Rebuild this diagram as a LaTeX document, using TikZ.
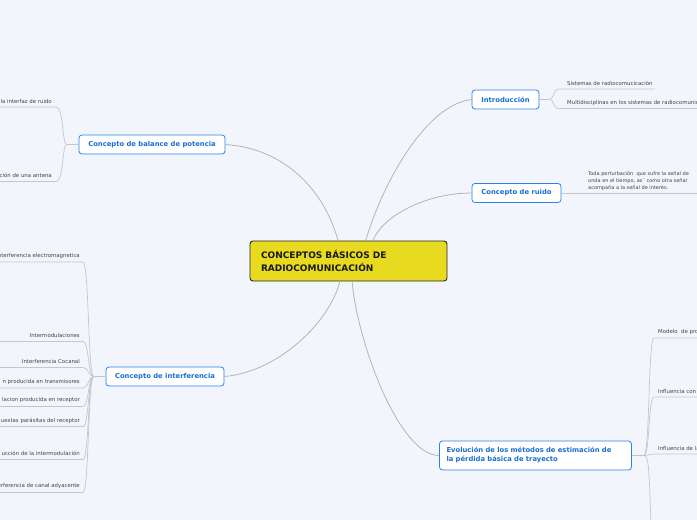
\documentclass[tikz,border=0pt]{standalone}
\usepackage{fontspec}
\setmainfont{DejaVu Sans}
\definecolor{bg}{HTML}{F3F5FD}
\definecolor{topicblue}{HTML}{2A84E6}
\definecolor{topictext}{HTML}{1A6FD2}
\definecolor{rootfill}{HTML}{E8DA1E}
\definecolor{leafgray}{HTML}{444444}
\definecolor{conngray}{HTML}{B4B4B8}
\definecolor{twiggray}{HTML}{C6C6CA}
\begin{document}
\begin{tikzpicture}[x=1pt,y=-1pt,
  root/.style={draw=black!85, line width=0.9pt, fill=rootfill, rounded corners=3pt,
    font=\fontsize{9}{12.5}\selectfont\bfseries, text=black!90, align=left,
    text width=175pt, inner xsep=11pt, inner ysep=0pt, minimum height=40pt},
  topic/.style={draw=topicblue, line width=0.8pt, fill=white, rounded corners=3pt,
    text=topictext, font=\fontsize{6.8}{9}\selectfont\bfseries, inner sep=0pt,
    minimum height=19pt},
  leaf/.style={text=leafgray, font=\fontsize{5.4}{6.5}\selectfont, inner sep=0pt},
  conn/.style={draw=conngray, line width=0.8pt},
  twig/.style={draw=twiggray, line width=0.7pt}]
\fill[bg] (0,0) rectangle (697,520);
\useasboundingbox (0,0) rectangle (697,520);

% central and topics
\node[root] (root) at (348.5,261) {CONCEPTOS BÁSICOS DE\\RADIOCOMUNICACIÓN};
\node[topic, minimum width=146pt] (bal) at (152,144.5) {Concepto de balance de potencia};
\node[topic, minimum width=67pt] (intro) at (505.5,99.5) {Introducción};
\node[topic, minimum width=89pt] (ruido) at (516.5,193) {Concepto de ruido};
\node[topic, minimum width=118pt] (inter) at (165,376.5) {Concepto de interferencia};
\node[topic, minimum width=191pt, minimum height=29pt, text width=178pt, align=left, inner xsep=7pt] (evo) at (535.5,455.5) {Evolución de los métodos de estimación de\\la pérdida básica de trayecto};

% main connectors
\draw[conn] (bal.east) .. controls +(60,4) and +(-14,-50) .. (root.117.7);
\draw[conn] (intro.west) .. controls +(-45,5) and +(18,-60) .. (root.50.5);
\draw[conn] (ruido.west) .. controls +(-45,0) and +(10,-25) .. (root.40.4);
\draw[conn] (inter.east) .. controls +(55,-5) and +(-10,40) .. (root.247);
\draw[conn] (evo.west) .. controls +(-40,0) and +(5,60) .. (root.280);

% Introduccion leaves
\node[leaf, anchor=west] (i1) at (567,83) {Sistemas de radiocomucicación};
\node[leaf, anchor=west] (i2) at (567,103) {Multidisciplinas en los sistemas de radiocomunicación};
\coordinate (i1a) at (558,89); \coordinate (i1b) at (655,89);
\coordinate (i2a) at (558,108.5); \coordinate (i2b) at (697,108.5);
\draw[twig] (intro.east) -- ++(10,0) coordinate (ij);
\draw[twig] (ij) .. controls +(5,0) and +(-5,0) .. (i1a) -- (i1b);
\draw[twig] (ij) .. controls +(5,0) and +(-5,0) .. (i2a) -- (i2b);

% Ruido leaf
\node[leaf, anchor=north west, align=left, font=\fontsize{5}{7}\selectfont] (r1) at (588,171)
  {Toda perturbación~ que sufre la señal de\\onda en el tiempo, as´ como otra señal\\acompaña a la señal de interés.};
\coordinate (r1e) at (697,193);
\draw[twig] (ruido.east) -- (r1e);

% Balance leaves
\node[leaf, anchor=east] (b1) at (52,101) {la interfaz de ruido};
\node[leaf, anchor=east] (b2) at (52,175.5) {ción de una antena};
\coordinate (b1a) at (56,107); \coordinate (b1b) at (0,107);
\coordinate (b2a) at (56,181.5); \coordinate (b2b) at (0,181.5);
\draw[twig] (bal.west) -- ++(-12,0) coordinate (bj);
\draw[twig] (bj) .. controls (62,144.5) and (64,107) .. (b1a) -- (b1b);
\draw[twig] (bj) .. controls (62,144.5) and (64,181.5) .. (b2a) -- (b2b);

% Interferencia leaves
\draw[twig] (inter.west) -- ++(-12,0) coordinate (nj);
\foreach \t/\ty [count=\k] in {Interferencia electromagnetica/256,
    Intermodulaciones/335.5, Interferencia Cocanal/361.5,
    n producida en transmisores/382, lacion producida en receptor/400.5,
    uestas parásitas del receptor/420.5, ucción de la intermodulación/453.5,
    erferencia de canal adyacente/486.5}{
  \node[leaf, anchor=east] (n\k) at (80,\ty) {\t};
  \coordinate (n\k a) at (83,\ty+6);
  \coordinate (n\k b) at (0,\ty+6);
  \draw[twig] (nj) .. controls (88,376.5) and (89,\ty+6) .. (n\k a) -- (n\k b);
}

% Evolucion leaves
\draw[twig] (evo.east) -- ++(12,0) coordinate (ej);
\foreach \t/\ty [count=\k] in {Modelo~ de propagación/332, Influencia con/391, Influencia de la/448}{
  \node[leaf, anchor=west] (e\k) at (658,\ty) {\t};
  \coordinate (e\k a) at (654,\ty+6);
  \coordinate (e\k b) at (697,\ty+6);
  \draw[twig] (ej) .. controls (650,455.5) and (648,\ty+6) .. (e\k a) -- (e\k b);
}
\coordinate (ebot) at (651,524);
\draw[twig] (ej) .. controls (649,455.5) and (649,470) .. (ebot);
\end{tikzpicture}
\end{document}
